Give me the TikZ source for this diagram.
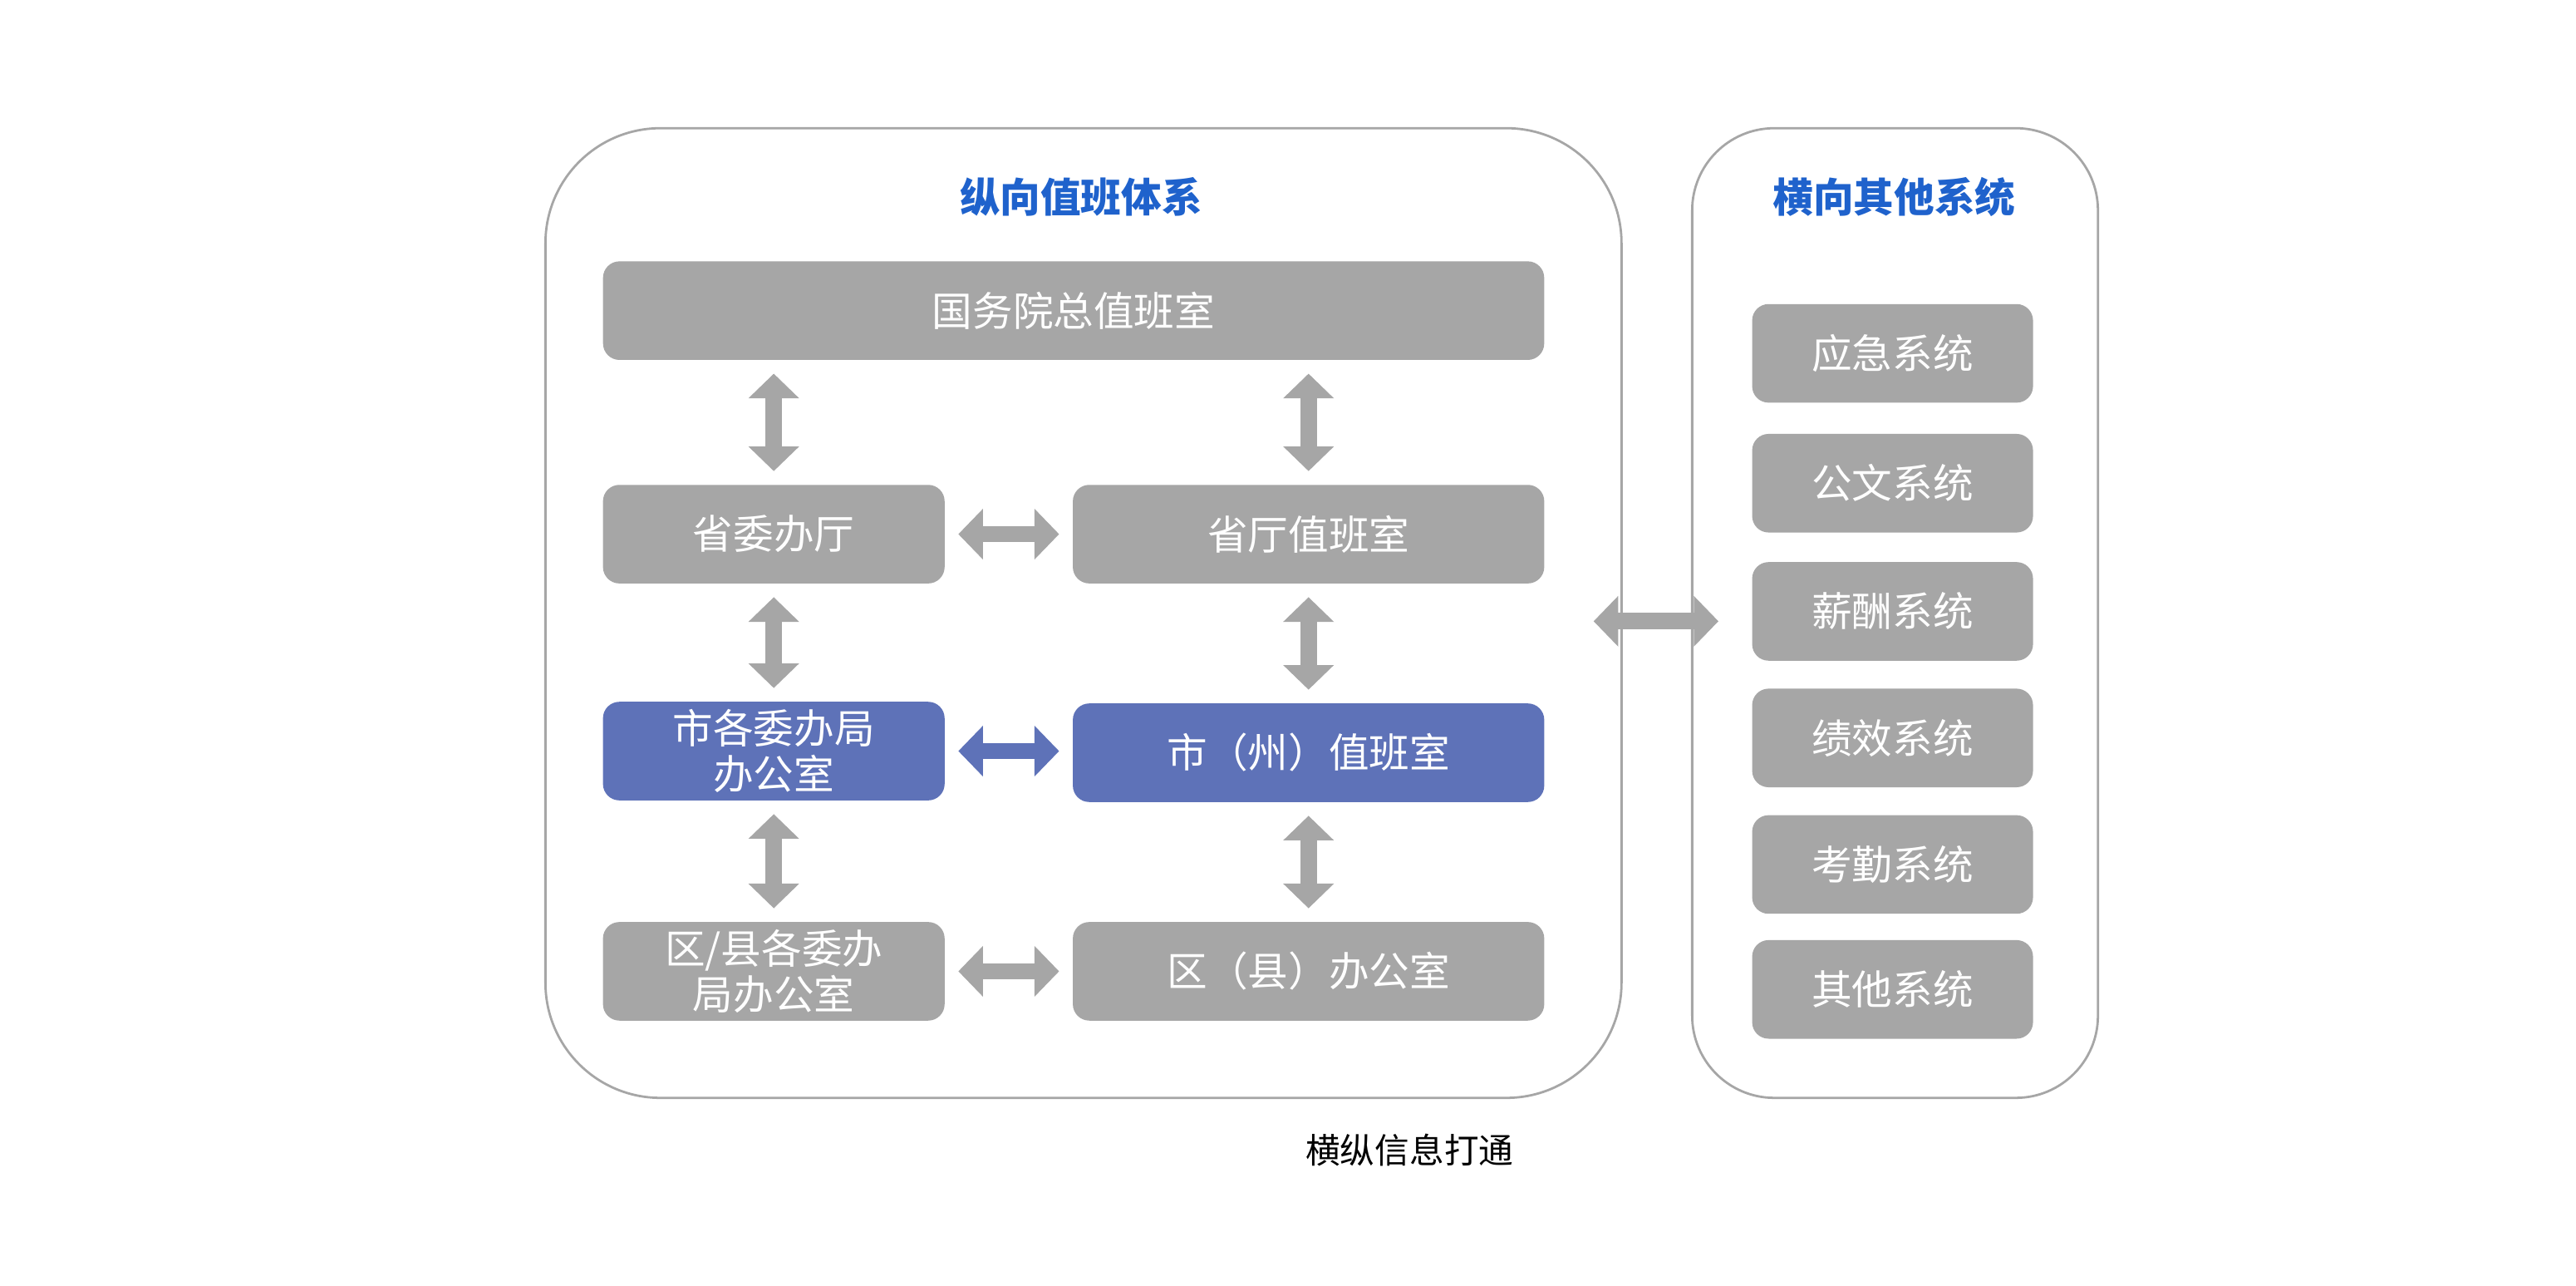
\documentclass[tikz,border=0pt]{standalone}
\usepackage{fontspec}
\setmainfont{Noto Sans CJK SC}
\usetikzlibrary{arrows.meta}
\definecolor{boxgray}{HTML}{A6A6A6}
\definecolor{boxblue}{HTML}{5E72B8}
\definecolor{titleblue}{HTML}{1F62CC}
\tikzset{
  unit/.style={rounded corners=0.2cm, fill=#1, text=white, inner sep=0pt,
    font=\fontsize{14}{16}\selectfont, align=center},
  unit/.default=boxgray,
  frame/.style={draw=boxgray, line width=0.8pt},
  title/.style={text=titleblue, font=\fontsize{14}{16}\selectfont\bfseries},
  link/.style={draw=#1, line width=0.2cm, {Triangle[width=0.6cm,length=0.3cm]}-{Triangle[width=0.6cm,length=0.3cm]}, shorten <=0.16cm, shorten >=0.16cm},
  link/.default=boxgray
}
\begin{document}
\begin{tikzpicture}[x=0.02cm,y=-0.02cm]
\useasboundingbox (0,0) rectangle (1568,782);
%frames
\draw [frame, rounded corners=1.4cm] (332,78) rectangle (987,668);
\draw [frame, rounded corners=1cm] (1030,78) rectangle (1277,668);
\node [title] (vt) at (658,120) {纵向值班体系};
\node [title] (ht) at (1153,120) {横向其他系统};
%vertical boxes
\node [unit, minimum width=11.46cm, minimum height=1.2cm] (gwy) at (653.5,189) {国务院总值班室};
\node [unit, minimum width=4.16cm, minimum height=1.2cm] (swbt) at (471,325) {省委办厅};
\node [unit, minimum width=5.74cm, minimum height=1.2cm] (stzb) at (796.5,325) {省厅值班室};
\node [unit=boxblue, minimum width=4.16cm, minimum height=1.2cm] (swjb) at (471,457) {市各委办局\\办公室};
\node [unit=boxblue, minimum width=5.74cm, minimum height=1.2cm] (szzb) at (796.5,458) {市（州）值班室};
\node [unit, minimum width=4.16cm, minimum height=1.2cm] (qwjb) at (471,591) {区/县各委办\\局办公室};
\node [unit, minimum width=5.74cm, minimum height=1.2cm] (qxbg) at (796.5,591) {区（县）办公室};
%links
\draw [link] (gwy.south -| swbt) -- (swbt.north);
\draw [link] (gwy.south -| stzb) -- (stzb.north);
\draw [link] (swbt) -- (stzb);
\draw [link] (swbt) -- (swjb);
\draw [link] (stzb) -- (szzb);
\draw [link=boxblue] (swjb) -- (swjb -| szzb.west);
\draw [link] (swjb) -- (qwjb);
\draw [link] (szzb) -- (qxbg);
\draw [link] (qwjb) -- (qxbg);
%horizontal systems
\foreach \n/\t/\y in {yj/应急系统/215, gw/公文系统/294, xc/薪酬系统/372, jx/绩效系统/449, kq/考勤系统/526, qt/其他系统/602}
  \node [unit, minimum width=3.42cm, minimum height=1.2cm] (\n) at (1152,\y) {\t};
\coordinate (la) at (962,378);
\coordinate (ra) at (1054,378);
\draw [link] (la) -- (ra);
\node [font=\fontsize{12}{14}\selectfont] (cap) at (858,700) {横纵信息打通};
\end{tikzpicture}
\end{document}
